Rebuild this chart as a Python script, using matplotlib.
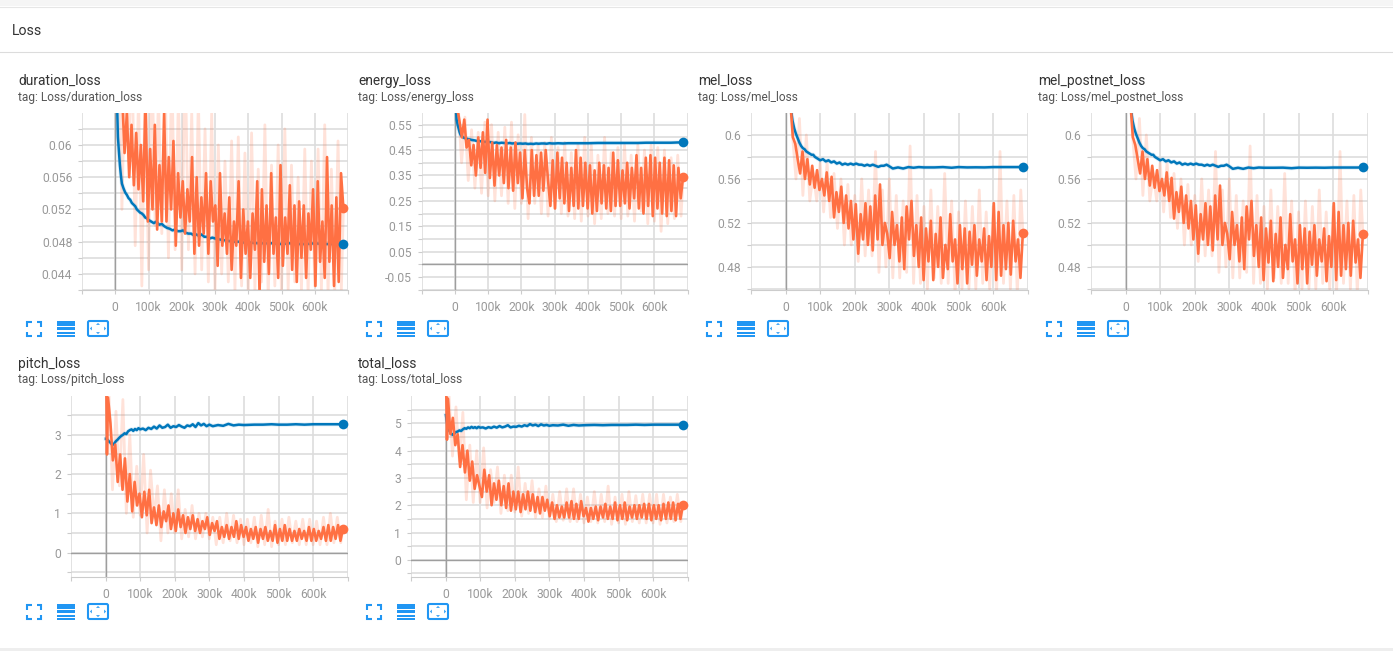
import matplotlib

matplotlib.use('Agg')
import matplotlib.pyplot as plt
from matplotlib.patches import FancyBboxPatch, Polygon, Rectangle

plt.rcParams['font.family'] = ['Roboto', 'DejaVu Sans']

W, H = 1393, 651
BLUE = '#0077bb'
ORANGE = '#ff7043'
ICON = '#2196f3'

# steps, in thousands
steps_smooth = [2, 4, 7, 14, 21, 28, 35, 42, 49, 56, 63, 70, 77, 84, 91, 98,
                105, 112, 119, 126, 133, 140, 147, 154, 161, 168, 175, 182, 189, 196,
                203, 210, 217, 224, 231, 238, 245, 252, 259, 266, 273, 280, 287, 294,
                301, 308, 315, 322, 329, 336, 343, 350, 357, 364, 371, 378, 385, 392,
                399, 406, 413, 420, 427, 434, 441, 448, 455, 462, 469, 476, 483, 490,
                497, 504, 511, 518, 525, 532, 539, 546, 553, 560, 567, 574, 581, 588,
                595, 602, 609, 616, 623, 630, 637, 644, 651, 658, 665, 672, 679, 686]
steps_raw = [10, 20, 30, 40, 50, 60, 70, 80, 90, 100,
             110, 120, 130, 140, 150, 160, 170, 180, 190, 200,
             210, 220, 230, 240, 250, 260, 270, 280, 290, 300,
             310, 320, 330, 340, 350, 360, 370, 380, 390, 400,
             410, 420, 430, 440, 450, 460, 470, 480, 490, 500,
             510, 520, 530, 540, 550, 560, 570, 580, 590, 600,
             610, 620, 630, 640, 650, 660, 670, 680, 686]
steps_blue = [1, 3, 5, 8, 11, 14, 17, 20,
              25, 30, 35, 40, 45, 50, 55, 60, 65, 70, 75, 80, 85, 90, 95, 100,
              108, 116, 124, 132, 140, 148, 156, 164, 172, 180, 188, 196,
              204, 212, 220, 228, 236, 244, 252, 260, 268, 276, 284, 292, 300,
              310, 325, 340, 355, 370, 385, 400,
              430, 455, 480, 500, 525, 550, 575, 600, 625, 650, 670, 686]

# duration_loss
duration_smooth = [.080, .075, .075, .070, .066, .059, .064, .056, .0625, .055, .0615, .0545, .060, .053, .066, .0505, .0595, .052,
                   .0625, .0495, .0575, .0505, .064, .0505, .0585, .052, .0605, .0475, .0565, .051, .0555, .049, .0545, .0505,
                   .0585, .0465, .056, .0475, .0535, .049, .0565, .0465, .0555, .0505, .0525, .045, .0565, .0475, .0515, .0465,
                   .0535, .0445, .0505, .0475, .0555, .0435, .052, .0465, .0505, .0435, .0515, .047, .0555, .0415, .0545, .0455,
                   .0525, .044, .0565, .0465, .051, .0435, .0575, .045, .051, .0465, .055, .0445, .0525, .043, .053, .046,
                   .0525, .0435, .0515, .047, .0545, .0425, .0555, .0455, .0505, .0435, .0585, .0455, .0525, .0425, .0535, .043,
                   .0565, .0522]
duration_raw = [.080, .052, .070, .058, .072, .0475, .066, .0425, .068, .0445,
                .072, .050, .066, .049, .068, .046, .070, .047, .066, .0445,
                .072, .047, .064, .044, .066, .0445, .062, .043, .064, .042,
                .060, .044, .058, .043, .0605, .042, .061, .0425, .059, .041,
                .0615, .042, .057, .043, .0625, .041, .0575, .0425, .060, .0415,
                .062, .042, .0575, .043, .056, .042, .0595, .0415, .058, .0425,
                .0595, .042, .0625, .0415, .057, .042, .0605, .042, .052]
duration_blue = [.090, .075, .066, .061, .0592, .0575, .0562, .0552,
                 .0546, .0541, .0538, .0534, .0532, .0528, .0526, .0524, .0520, .0518, .0516, .0515, .0513, .0510, .0509, .0507,
                 .0505, .0503, .0505, .0501, .0502, .0499, .0497, .0496, .0494, .0495, .0493, .0493,
                 .0494, .0491, .0490, .0490, .0488, .0489, .0487, .0489, .0486, .0486, .0484, .0485, .0484,
                 .0483, .0482, .0481, .0480, .0480, .0479, .0479,
                 .0478, .0478, .0478, .0477, .0478, .0477, .0477, .0478, .0477, .0477, .0477, .04775]

# energy_loss
energy_smooth = [.64, .60, .62, .56, .50, .57, .46, .49, .39, .47, .35, .50, .38, .52, .36, .57,
                 .34, .48, .31, .47, .35, .46, .32, .49, .30, .46, .29, .48, .32, .44,
                 .26, .45, .30, .24, .45, .27, .43, .27, .44, .29, .45, .33, .23, .41,
                 .22, .44, .26, .42, .24, .40, .21, .38, .23, .45, .22, .42, .23, .40,
                 .22, .39, .20, .37, .21, .40, .24, .39, .22, .38, .21, .44, .23, .41,
                 .23, .37, .24, .40, .22, .38, .26, .43, .22, .38, .20, .42, .23, .43,
                 .19, .42, .22, .40, .20, .42, .19, .41, .21, .39, .19, .38, .26, .345]
energy_raw = [.62, .40, .58, .33, .53, .30, .52, .28, .56, .27,
              .55, .25, .52, .27, .54, .24, .56, .22, .51, .24,
              .59, .18, .50, .24, .47, .20, .48, .19, .50, .22,
              .46, .20, .48, .19, .44, .18, .47, .17, .50, .19,
              .47, .16, .43, .18, .50, .20, .44, .19, .46, .18,
              .47, .19, .43, .17, .47, .21, .45, .16, .47, .17,
              .46, .13, .45, .16, .42, .18, .43, .19, .345]
energy_blue = [.70, .62, .57, .55, .535, .52, .51, .505,
               .50, .497, .495, .493, .492, .49, .489, .488, .486, .486, .485, .484, .483, .482, .483, .482,
               .481, .478, .480, .477, .479, .478, .476, .478, .476, .477, .475, .476,
               .475, .476, .474, .475, .474, .476, .475, .476, .476, .475, .477, .476, .476,
               .477, .476, .477, .477, .477, .477, .477,
               .478, .478, .478, .478, .478, .478, .479, .479, .479, .479, .48, .48]

# mel_loss
mel_smooth = [.72, .70, .66, .63, .598, .592, .578, .565, .585,
              .56, .578, .555, .572, .552, .568, .55,
              .56, .545, .566, .54, .562, .525, .548,
              .53, .553, .52, .545, .515, .54, .505,
              .537, .492, .528, .505, .538, .50, .535,
              .495, .545, .505, .555, .50, .52, .51,
              .488, .53, .50, .518, .485, .525, .478,
              .535, .505, .54, .49, .518, .48, .525,
              .468, .515, .485, .522, .468, .51, .48,
              .525, .47, .50, .478, .528, .485, .505,
              .465, .518, .478, .515, .465, .512, .482,
              .518, .472, .505, .485, .515, .468, .508,
              .48, .538, .468, .53, .472, .518, .478,
              .52, .473, .522, .485, .505, .47, .511]
mel_raw = [.66, .60, .56, .615, .545, .60, .54, .565, .54, .575,
           .53, .575, .525, .565, .515, .56, .50, .555, .50, .545,
           .485, .56, .49, .55, .49, .585, .475, .55, .48, .56,
           .47, .545, .47, .54, .475, .59, .465, .545, .465, .535,
           .46, .55, .47, .535, .465, .565, .465, .54, .455, .53,
           .46, .54, .46, .535, .46, .55, .465, .53, .46, .535,
           .455, .585, .465, .54, .46, .545, .455, .55, .511]
mel_blue = [.75, .72, .69, .665, .645, .63, .62, .613,
            .606, .601, .597, .593, .590, .588, .587, .585, .584, .583, .582, .582, .58, .579, .578, .577,
            .578, .576, .577, .575, .576, .574, .575, .573, .574, .573, .574, .573,
            .574, .573, .573, .572, .573, .572, .573, .572, .571, .572, .572, .573, .5715,
            .5695, .5705, .5695, .5708, .5702, .5708, .5705,
            .5705, .5708, .5702, .5708, .5705, .5706, .5705, .5708, .5708, .5708, .5708, .571]

# mel_postnet_loss
postnet_smooth = [.72, .70, .66, .63, .598, .591, .578, .565, .585,
                  .56, .578, .554, .572, .552, .568, .549,
                  .56, .545, .566, .54, .561, .524, .548,
                  .53, .553, .52, .545, .515, .54, .505,
                  .536, .492, .528, .505, .538, .50, .535,
                  .495, .545, .505, .554, .50, .52, .51,
                  .487, .53, .50, .518, .485, .525, .478,
                  .535, .505, .54, .49, .518, .48, .525,
                  .468, .515, .484, .522, .467, .51, .48,
                  .525, .47, .50, .478, .528, .485, .505,
                  .465, .518, .478, .515, .465, .512, .482,
                  .518, .472, .505, .485, .515, .467, .508,
                  .48, .538, .468, .53, .472, .518, .478,
                  .52, .472, .522, .484, .505, .47, .51]
postnet_raw = [.66, .60, .56, .615, .545, .60, .54, .565, .54, .575,
               .53, .575, .525, .565, .515, .56, .50, .555, .50, .545,
               .485, .56, .49, .55, .49, .585, .475, .55, .48, .56,
               .47, .545, .47, .54, .475, .59, .465, .545, .465, .535,
               .46, .55, .47, .535, .465, .565, .465, .54, .455, .53,
               .46, .54, .46, .535, .46, .55, .465, .53, .46, .535,
               .455, .585, .465, .54, .46, .545, .455, .55, .51]
postnet_blue = [.75, .72, .69, .665, .645, .63, .62, .613,
                .606, .601, .597, .593, .590, .588, .587, .585, .584, .583, .582, .582, .58, .579, .578, .577,
                .578, .576, .577, .575, .576, .574, .575, .573, .574, .573, .574, .573,
                .574, .573, .573, .572, .573, .572, .573, .572, .571, .572, .572, .573, .5715,
                .5692, .5702, .5692, .5704, .5698, .5704, .5702,
                .5702, .5703, .5698, .5703, .5702, .5703, .5702, .5704, .5704, .5704, .5704, .5705]

# pitch_loss
pitch_smooth = [4.5, 2.5, 3.95, 3.3, 2.35, 2.75, 1.8, 2.5, 1.6,
                2.4, 1.3, 2.0, 1.05, 1.8, 1.2, 1.5,
                .9, 1.55, .95, 1.6, .75, 1.15, .7,
                1.2, .65, 1.05, .8, 1.2, .6, 1.0,
                .55, 1.1, .65, .95, .5, .9, .6,
                .95, .55, .85, .5, .8, .6, .9,
                .45, .75, .55, .8, .35, .65, .4,
                .7, .35, .65, .4, .8, .35, .7,
                .4, .65, .3, .6, .35, .65, .25,
                .6, .35, .65, .3, .55, .3, .7,
                .25, .6, .3, .7, .3, .6, .3,
                .55, .3, .6, .35, .55, .3, .65,
                .3, .6, .3, .55, .35, .65, .3,
                .7, .3, .65, .35, .7, .3, .6]
pitch_raw = [3.99, 1.6, 3.6, 1.7, 3.9, 1.0, 3.0, .9, 2.2, .95,
             2.5, .5, 2.1, .9, 1.7, .3, 1.6, .5, 1.5, .5,
             1.6, .35, 1.1, .4, 1.2, .35, 1.0, .4, 1.0, .35,
             .9, .2, .9, .25, 1.0, .3, .95, .25, .85, .2,
             .85, .25, .9, .15, .95, .2, 1.1, .15, .8, .2,
             .85, .2, .9, .25, .8, .2, .85, .2, .85, .2,
             .8, .2, .9, .2, 1.0, .25, .9, .25, .6]
pitch_blue = [2.9, 2.9, 2.88, 2.85, 2.82, 2.8, 2.77, 2.74,
              2.78, 2.84, 2.88, 2.93, 2.97, 3.0, 3.04, 3.02, 3.09, 3.12, 3.14, 3.1, 3.15, 3.12, 3.17, 3.14,
              3.16, 3.12, 3.18, 3.15, 3.21, 3.16, 3.24, 3.18, 3.2, 3.26, 3.18, 3.22,
              3.2, 3.25, 3.21, 3.18, 3.24, 3.22, 3.27, 3.2, 3.3, 3.24, 3.28, 3.22, 3.26,
              3.22, 3.25, 3.23, 3.28, 3.24, 3.26, 3.25,
              3.26, 3.26, 3.27, 3.26, 3.26, 3.27, 3.26, 3.27, 3.27, 3.27, 3.27, 3.27]

# total_loss
total_smooth = [6.2, 4.4, 5.9, 4.6, 5.2, 4.2, 4.6, 3.4, 4.2,
                3.2, 4.0, 2.9, 3.6, 2.6, 3.1, 2.7,
                2.3, 3.3, 2.5, 3.1, 2.0, 2.8, 2.2,
                2.9, 2.0, 2.7, 1.9, 2.8, 1.8, 2.5,
                1.85, 2.5, 1.75, 2.4, 1.85, 2.5, 1.8,
                2.4, 1.75, 2.3, 1.7, 2.3, 1.8, 2.2,
                1.6, 2.1, 1.5, 2.0, 1.55, 1.95, 1.55,
                2.1, 1.55, 2.15, 1.5, 2.05, 1.5, 2.15,
                1.6, 1.9, 1.4, 1.9, 1.5, 1.95, 1.45,
                1.95, 1.55, 2.05, 1.5, 1.95, 1.5, 2.1,
                1.45, 2.0, 1.5, 2.1, 1.45, 1.95, 1.55,
                2.0, 1.5, 2.0, 1.55, 2.05, 1.5, 2.05,
                1.45, 2.0, 1.5, 2.0, 1.45, 2.05, 1.5,
                2.1, 1.5, 2.1, 1.45, 2.05, 1.5, 2.0]
total_raw = [6.0, 3.8, 5.6, 3.6, 5.4, 2.2, 4.2, 2.1, 4.0, 2.1,
             4.1, 1.9, 3.3, 2.1, 3.4, 1.7, 3.1, 1.8, 3.1, 1.75,
             3.4, 1.6, 2.8, 1.7, 2.9, 1.55, 2.6, 1.55, 2.7, 1.5,
             2.4, 1.4, 2.5, 1.45, 2.6, 1.4, 2.6, 1.4, 2.4, 1.35,
             2.3, 1.4, 2.5, 1.35, 2.4, 1.4, 2.7, 1.3, 2.3, 1.35,
             2.4, 1.3, 2.5, 1.4, 2.35, 1.35, 2.4, 1.35, 2.4, 1.35,
             2.4, 1.3, 2.4, 1.35, 2.3, 1.4, 2.4, 1.4, 2.0]
total_blue = [5.3, 5.1, 4.95, 4.8, 4.72, 4.66, 4.62, 4.58,
              4.62, 4.68, 4.7, 4.74, 4.72, 4.78, 4.82, 4.8, 4.85, 4.82, 4.87, 4.83, 4.86, 4.82, 4.87, 4.84,
              4.85, 4.81, 4.86, 4.83, 4.88, 4.84, 4.9, 4.85, 4.88, 4.93, 4.85, 4.88,
              4.87, 4.91, 4.88, 4.93, 4.9, 4.97, 4.92, 4.95, 4.9, 4.96, 4.92, 4.94, 4.91,
              4.93, 4.92, 4.95, 4.91, 4.94, 4.92, 4.93,
              4.94, 4.93, 4.94, 4.94, 4.94, 4.95, 4.94, 4.95, 4.95, 4.95, 4.95, 4.95]

names = ['duration_loss', 'energy_loss', 'mel_loss', 'mel_postnet_loss', 'pitch_loss', 'total_loss']
x_ticks = [-100, 0, 100, 200, 300, 400, 500, 600, 700]
x_labels = ['', '0', '100k', '200k', '300k', '400k', '500k', '600k', '']
y_labels = [['0.044', '0.048', '0.052', '0.056', '0.06'],
            ['-0.05', '0.05', '0.15', '0.25', '0.35', '0.45', '0.55'],
            ['0.48', '0.52', '0.56', '0.6'],
            ['0.48', '0.52', '0.56', '0.6'],
            ['0', '1', '2', '3'],
            ['0', '1', '2', '3', '4', '5']]
y_major = [[.044, .048, .052, .056, .06],
           [-.05, .05, .15, .25, .35, .45, .55],
           [.48, .52, .56, .6],
           [.48, .52, .56, .6],
           [0, 1, 2, 3],
           [0, 1, 2, 3, 4, 5]]
y_minor = [[.042, .046, .05, .054, .058, .062],
           [-.1, 0, .1, .2, .3, .4, .5],
           [.46, .5, .54, .58],
           [.46, .5, .54, .58],
           [-.5, .5, 1.5, 2.5, 3.5],
           [-.5, .5, 1.5, 2.5, 3.5, 4.5, 5.5]]
y_limits = [(.04202, .06397), (-.101, .596), (.459, .62), (.459, .62), (-.61, 3.99), (-.61, 6.0)]
smooth = [duration_smooth, energy_smooth, mel_smooth, postnet_smooth, pitch_smooth, total_smooth]
raw = [duration_raw, energy_raw, mel_raw, postnet_raw, pitch_raw, total_raw]
blue = [duration_blue, energy_blue, mel_blue, postnet_blue, pitch_blue, total_blue]

# pixel boxes of the plots: left, right, top, bottom
boxes = [(82, 348, 113, 290), (421.7, 687.7, 113, 290), (751, 1027.7, 113, 290),
         (1091, 1367.7, 113, 290), (71, 347.7, 396, 576.5), (411, 687.7, 396, 576.5)]
title_pos = [(18, 81), (358, 81), (698, 81), (1038, 81), (18, 364), (358, 364)]

fig = plt.figure(figsize=(W / 100, H / 100), dpi=100)
fig.patch.set_facecolor('white')

page = fig.add_axes([0, 0, 1, 1], zorder=0)
page.set_xlim(0, W)
page.set_ylim(H, 0)
page.axis('off')

# page frame
page.add_patch(Rectangle((0, 0), W, 6, color='#f5f5f5', lw=0))
page.plot([0, W], [6.5, 6.5], color='#e6e6e6', lw=0.8)
page.plot([0, W], [51.5, 51.5], color='#dcdcdc', lw=0.8)
page.add_patch(Rectangle((0, 648), W, 3, color='#eeeeee', lw=0))
page.text(12, 31, 'Loss', fontsize=10.2, color='#333333', va='center')


def draw_icons(x0, y0):
    # corner brackets
    for cx, sx in [(x0 + 9, 1), (x0 + 23, -1)]:
        for cy, sy in [(y0 + 241, 1), (y0 + 255, -1)]:
            page.plot([cx + sx * 4.5, cx, cx], [cy, cy, cy + sy * 4.5], color=ICON, lw=1.5,
                      solid_joinstyle='miter', solid_capstyle='butt')
    # list bars
    for by, bh in [(240, 4.5), (246, 3), (251, 1.5), (254, 1.5)]:
        page.add_patch(Rectangle((x0 + 39, y0 + by), 18, bh, color=ICON, lw=0))
    # fit box
    page.add_patch(FancyBboxPatch((x0 + 70, y0 + 240), 20, 15, boxstyle='round,pad=0,rounding_size=1.5',
                                  fc='white', ec=ICON, lw=1.5))
    mx, my = x0 + 80, y0 + 247.5
    for pts in [[(0, -5.5), (-2, -3.7), (2, -3.7)], [(0, 5.5), (-2, 3.7), (2, 3.7)],
                [(-8, 0), (-6.2, -2), (-6.2, 2)], [(8, 0), (6.2, -2), (6.2, 2)]]:
        page.add_patch(Polygon([(mx + a, my + b) for a, b in pts], color=ICON, lw=0))


for i, name in enumerate(names):
    left, right, top, bottom = boxes[i]
    ax = fig.add_axes([left / W, 1 - bottom / H, (right - left) / W, (bottom - top) / H], zorder=1)
    ax.set_xlim(-100, 700)
    ax.set_ylim(*y_limits[i])

    ax.plot(steps_raw, raw[i], color=ORANGE, alpha=0.2, lw=2.0, zorder=3)
    ax.plot(steps_blue, blue[i], color=BLUE, alpha=0.12, lw=3.0, zorder=4)
    ax.plot(steps_blue, blue[i], color=BLUE, lw=1.8, zorder=5)
    ax.plot(steps_smooth, smooth[i], color=ORANGE, lw=1.9, zorder=6)
    ax.plot(steps_blue[-1], blue[i][-1], 'o', color=BLUE, ms=7, mew=0, zorder=7, clip_on=False)
    ax.plot(steps_smooth[-1], smooth[i][-1], 'o', color=ORANGE, ms=7, mew=0, zorder=8, clip_on=False)

    ax.set_xticks(x_ticks, x_labels)
    ax.set_yticks(y_major[i], y_labels[i])
    ax.set_yticks(y_minor[i], minor=True)
    ax.grid(True, which='both', color='#dddddd', lw=1.2)
    ax.set_axisbelow(True)
    ax.axvline(0, color='#9e9e9e', lw=1.0, zorder=2)
    if y_limits[i][0] < 0:
        ax.axhline(0, color='#9e9e9e', lw=1.0, zorder=2)
    ax.tick_params(axis='x', length=3, width=0.8, color='#cccccc', labelcolor='#999999', labelsize=8.7, pad=5)
    ax.tick_params(axis='y', which='both', length=3, width=0.8, color='#cccccc', labelcolor='#999999', labelsize=8.7, pad=4)
    for side in ['top', 'right', 'left']:
        ax.spines[side].set_visible(False)
    ax.spines['bottom'].set_color('#cccccc')
    ax.spines['bottom'].set_linewidth(0.8)

    tx, ty = title_pos[i]
    page.text(tx, ty, name, fontsize=9.95, color='#333333', va='center')
    page.text(tx, ty + 16, 'tag: Loss/' + name, fontsize=8.55, color='#555555', va='center')
    draw_icons(tx, ty)

fig.savefig('out.png', dpi=100)
print('OK')
